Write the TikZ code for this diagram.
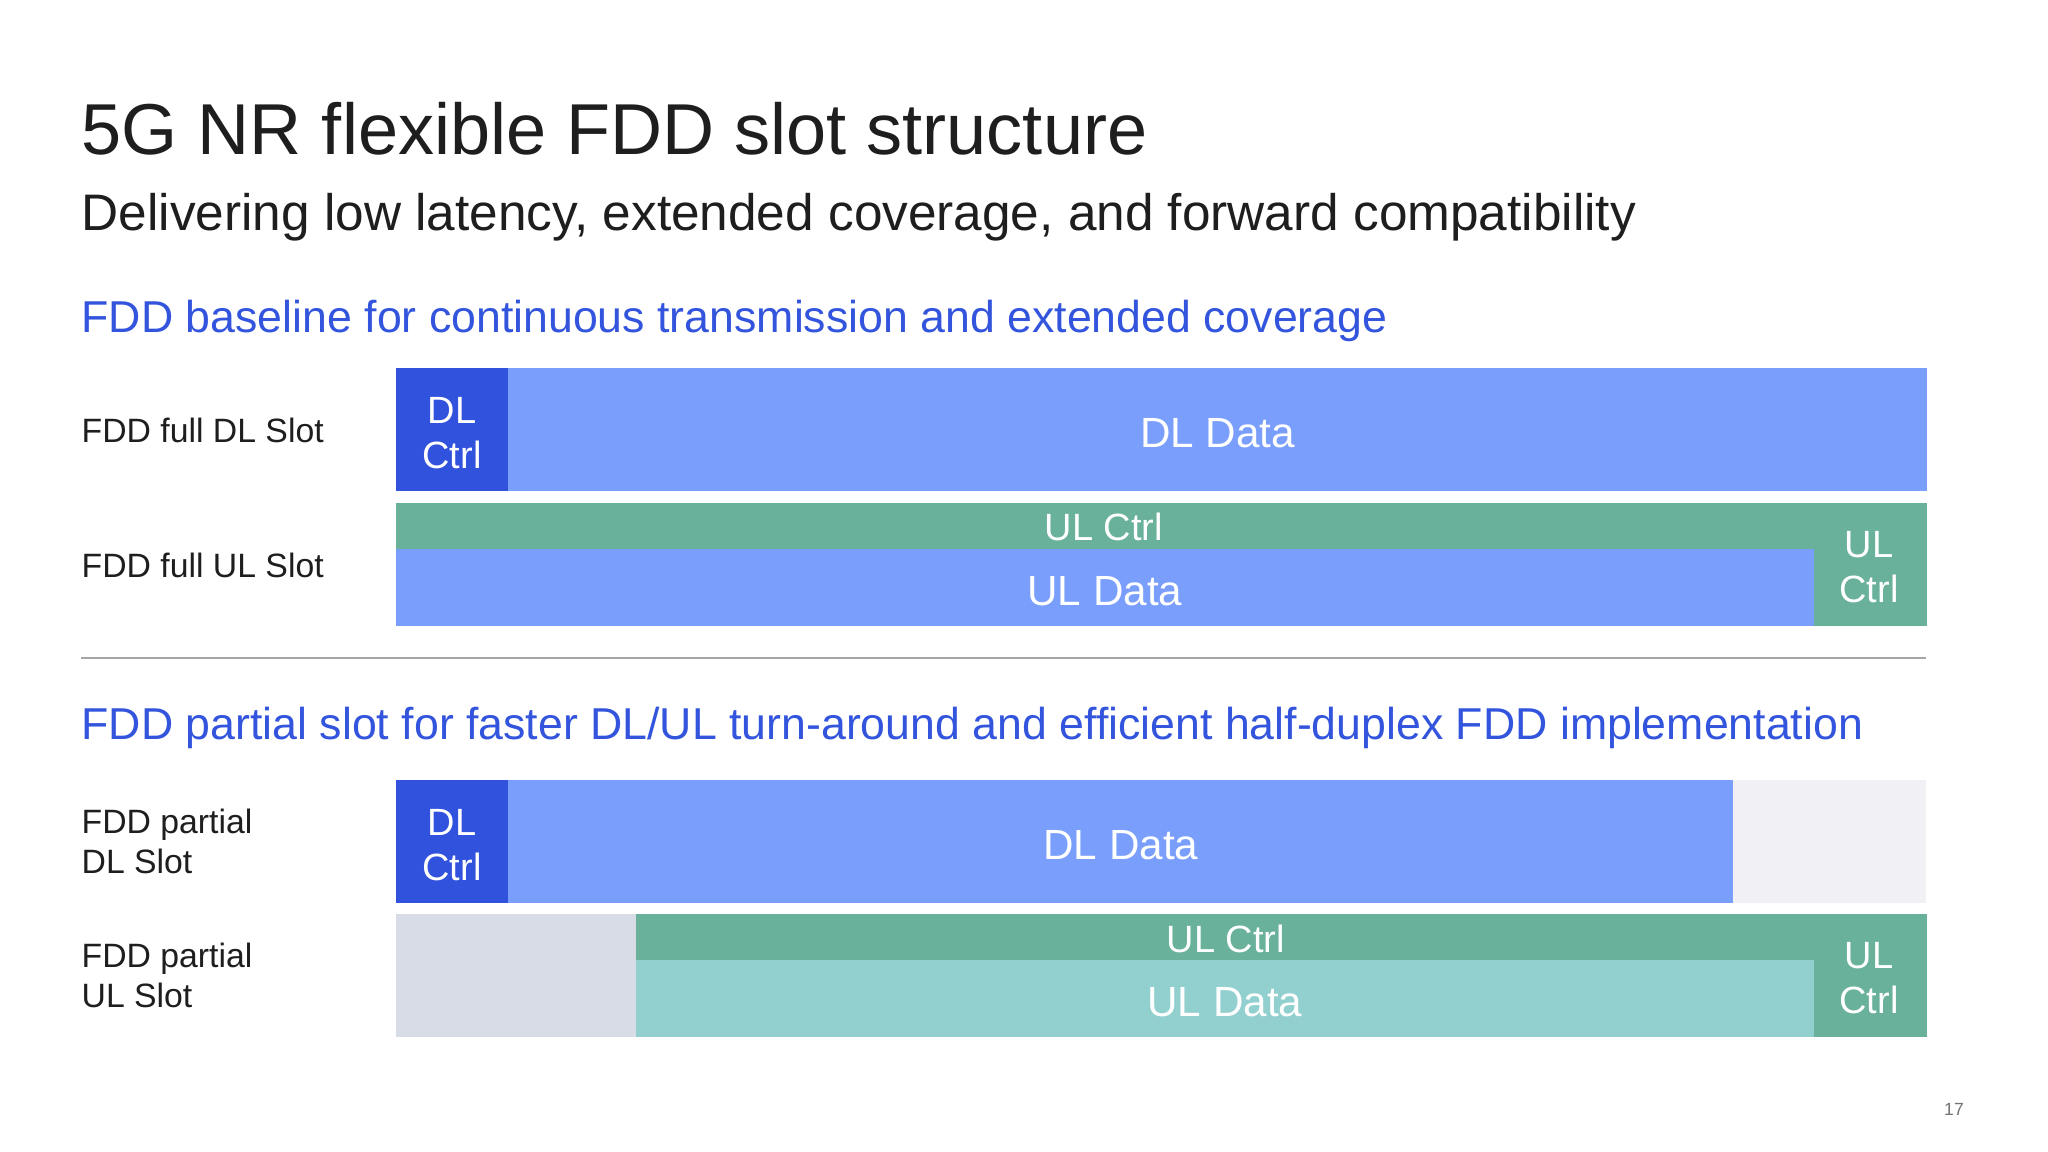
\documentclass[tikz,border=0pt]{standalone}
\usepackage{fontspec}
\setmainfont{Liberation Sans}

\definecolor{dlctrl}{HTML}{3152DD}
\definecolor{dldata}{HTML}{7A9EFC}
\definecolor{ulctrl}{HTML}{69B19A}
\definecolor{uldata}{HTML}{91D0CF}
\definecolor{idlegray}{HTML}{D8DCE6}
\definecolor{idlelight}{HTML}{F1F0F4}
\definecolor{headblue}{HTML}{3355DD}
\definecolor{inkgray}{HTML}{1E1E1E}

\begin{document}
\begin{tikzpicture}[x=0.01cm,y=-0.01cm,
		blk/.style={anchor=north west,inner sep=0pt,outer sep=0pt,minimum height=1.23cm},
		band/.style={blk,minimum height=0.77cm},
		ctrltxt/.style={text=white,align=center,font=\fontsize{10.8}{13}\selectfont},
		datatxt/.style={text=white,font=\fontsize{12}{14}\selectfont},
		lbl/.style={anchor=west,align=left,inner sep=0pt,text=inkgray,font=\fontsize{9.6}{11.4}\selectfont},
		head/.style={anchor=base west,inner sep=0pt,text=headblue,font=\fontsize{12.7}{15}\selectfont}]
	\useasboundingbox[fill=white] (0,0) rectangle (2048,1152);

	% titles
	\node[anchor=base west,text=inkgray,font=\fontsize{20.5}{24}\selectfont,inner sep=0pt] (title) at (81,155) {5G NR flexible FDD slot structure};
	\node[anchor=base west,text=inkgray,font=\fontsize{14.6}{17}\selectfont,inner sep=0pt] (subtitle) at (81,231) {Delivering low latency, extended coverage, and forward compatibility};
	\node[head] (head1) at (81,333) {FDD baseline for continuous transmission and extended coverage};
	\node[head] (head2) at (81,739) {FDD partial slot for faster DL/UL turn-around and efficient half-duplex FDD implementation};

	% full slots
	\node[lbl] (fulldl) at (81,430) {FDD full DL Slot};
	\node[lbl] (fullul) at (81,565) {FDD full UL Slot};
	\node[blk,fill=dlctrl,minimum width=1.12cm] (dlc1) at (396,368) {};
	\node[blk,fill=dldata,minimum width=14.18cm] (dld1) at (508,368) {};
	\node[blk,fill=ulctrl,minimum width=15.30cm] (ulc1) at (396,503) {};
	\node[band,fill=dldata,minimum width=14.17cm] (uld1) at (396,549) {};
	\node[ctrltxt] (dlc1txt) at ([yshift=-1pt]dlc1.center) {DL\\Ctrl};
	\node[datatxt] (dld1txt) at ([yshift=-1pt]dld1.center) {DL Data};
	\node[datatxt] (uld1txt) at ([yshift=-1pt]uld1.center) {UL Data};
	\node[ctrltxt] (ulctop1) at (1104,527) {UL Ctrl};
	\node[ctrltxt] (ulcend1) at (1869,567) {UL\\Ctrl};

	\draw[black!35,line width=0.6pt] (81,658) -- (1926,658);

	% partial slots
	\node[lbl] (partdl) at (81,841) {FDD partial\\DL Slot};
	\node[lbl] (partul) at (81,975) {FDD partial\\UL Slot};
	\node[blk,fill=dlctrl,minimum width=1.12cm] (dlc2) at (396,780) {};
	\node[blk,fill=dldata,minimum width=12.25cm] (dld2) at (508,780) {};
	\node[blk,fill=idlelight,minimum width=1.93cm] (idle2) at (1733,780) {};
	\node[blk,fill=idlegray,minimum width=2.40cm] (gap2) at (396,914) {};
	\node[blk,fill=ulctrl,minimum width=12.90cm] (ulc2) at (636,914) {};
	\node[band,fill=uldata,minimum width=11.77cm] (uld2) at (636,960) {};
	\node[ctrltxt] (dlc2txt) at ([yshift=-1pt]dlc2.center) {DL\\Ctrl};
	\node[datatxt] (dld2txt) at ([yshift=-1pt]dld2.center) {DL Data};
	\node[datatxt] (uld2txt) at ([yshift=-1pt]uld2.center) {UL Data};
	\node[ctrltxt] (ulctop2) at (1226,939) {UL Ctrl};
	\node[ctrltxt] (ulcend2) at (1869,978) {UL\\Ctrl};

	\node[text=black!55,font=\fontsize{5}{6}\selectfont] (pageno) at (1954,1109) {17};
\end{tikzpicture}
\end{document}
